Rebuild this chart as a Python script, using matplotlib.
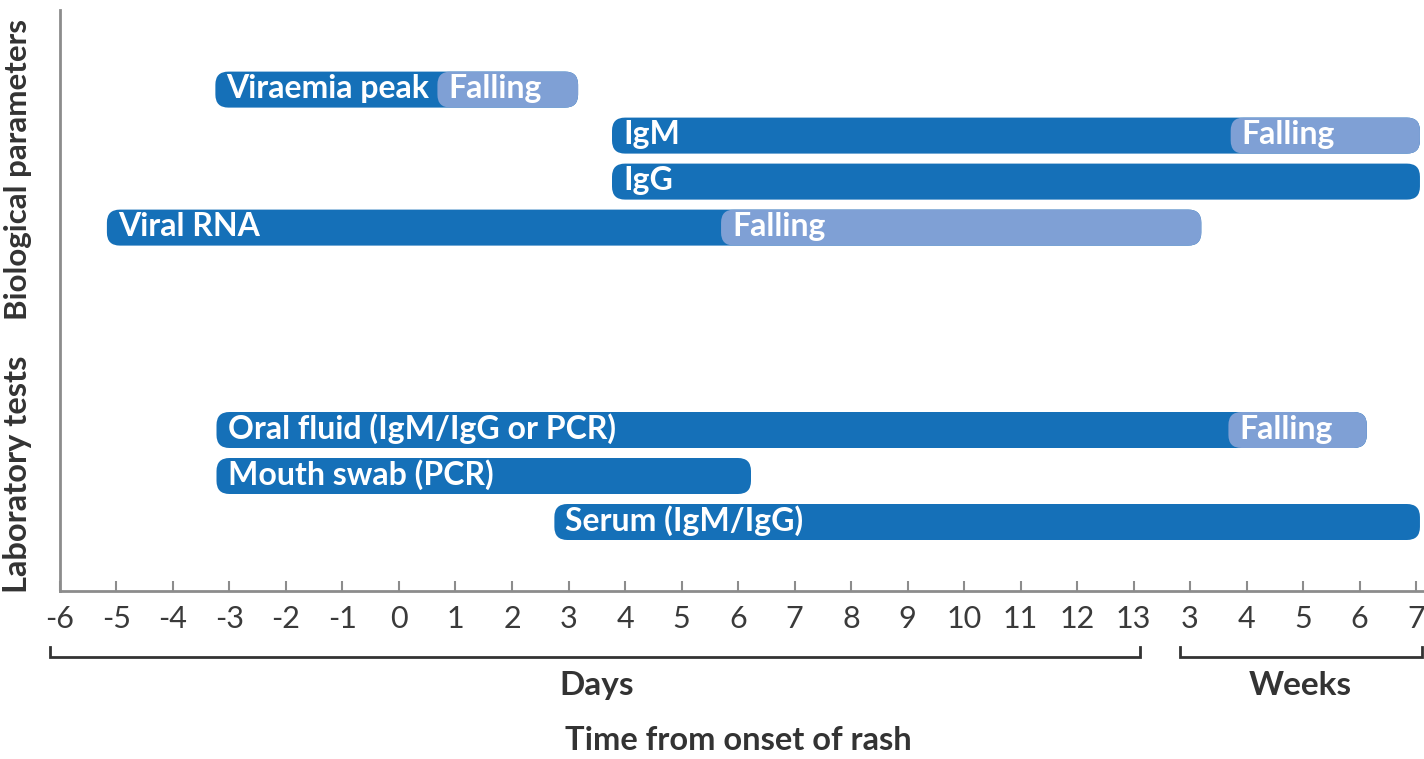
import matplotlib
matplotlib.use('Agg')
import matplotlib.pyplot as plt
from matplotlib.patches import FancyBboxPatch

# dados do grafico: linhas, inicio/fim em unidades do eixo
# (dias -6..13 nas posicoes -6..13, semanas 3..7 nas posicoes 14..18)
barLabels = ['Viraemia peak', 'IgM', 'IgG', 'Viral RNA',
             'Oral fluid (IgM/IgG or PCR)', 'Mouth swab (PCR)', 'Serum (IgM/IgG)']
barRows = [10.9, 9.9, 8.9, 7.9, 3.5, 2.5, 1.5]
barStart = [-3.25, 3.77, 3.77, -5.17, -3.23, -3.23, 2.75]
barEnd = [3.17, 18.07, 18.07, 14.2, 17.13, 6.23, 18.07]
fallStart = [0.68, 14.72, None, 5.7, 14.68, None, None]
fallLabel = 'Falling'

tickPos = list(range(-6, 19))
tickLabels = [str(d) for d in range(-6, 14)] + [str(w) for w in range(3, 8)]

DARK = '#1570b8'
LIGHT = '#7fa0d5'
TXT = '#333333'
GREY = '#8c8c8c'

W, H = 1424, 759
PX_X = 56.5   # pixels por unidade x
PX_Y = 46.0   # pixels por unidade y
XMIN, XMAX = -6, 18.12
YMAX = 581 / PX_Y
BAR_H = 36 / PX_Y
RAD = 13 / PX_X
PAD = 11 / PX_X

LABEL_FONT = ['Lato', 'DejaVu Sans']
TITLE_FONT = ['Lato', 'DejaVu Sans']


def barra(ax, x0, x1, y, cor):
    p = FancyBboxPatch((x0, y - BAR_H / 2), x1 - x0, BAR_H,
                       boxstyle='round,pad=0,rounding_size=%f' % RAD,
                       mutation_aspect=PX_X / PX_Y,
                       fc=cor, ec='none', lw=0)
    ax.add_patch(p)


def main():
    fig = plt.figure(figsize=(W / 100, H / 100), dpi=100)
    ax = fig.add_axes([60 / W, 168 / H, (XMAX - XMIN) * PX_X / W, 581 / H])
    ax.set_xlim(XMIN, XMAX)
    ax.set_ylim(0, YMAX)

    for i in range(len(barLabels)):
        y = barRows[i]
        barra(ax, barStart[i], barEnd[i], y, DARK)
        ax.text(barStart[i] + PAD, y + 0.02, barLabels[i], color='white', fontsize=23,
                fontweight='bold', family=LABEL_FONT, va='center', ha='left')
        if fallStart[i] is not None:
            barra(ax, fallStart[i], barEnd[i], y, LIGHT)
            ax.text(fallStart[i] + PAD, y + 0.02, fallLabel, color='white', fontsize=23,
                    fontweight='bold', family=LABEL_FONT, va='center', ha='left')

    # eixos
    for s in ['top', 'right']:
        ax.spines[s].set_visible(False)
    for s in ['left', 'bottom']:
        ax.spines[s].set_color(GREY)
        ax.spines[s].set_linewidth(2)
    ax.set_yticks([])
    ax.set_xticks(tickPos)
    ax.set_xticklabels(tickLabels, family=LABEL_FONT, fontweight='normal',
                       fontsize=22, color='#3a3a3a')
    ax.tick_params(axis='x', direction='in', length=7.5, width=1.5,
                   color=GREY, pad=10)

    # colchetes Days / Weeks
    tr = ax.get_xaxis_transform()
    yb, yt = -0.1136, -0.0964
    for x0, x1 in [(-6.18, 13.12), (13.82, 18.1)]:
        ax.plot([x0, x0, x1, x1], [yt, yb, yb, yt], color=TXT, lw=2,
                transform=tr, clip_on=False, solid_joinstyle='miter')
    ax.text(3.5, -0.1635, 'Days', transform=tr, ha='center', va='center',
            fontsize=24, fontweight='bold', color=TXT, family=TITLE_FONT)
    ax.text(15.95, -0.1635, 'Weeks', transform=tr, ha='center', va='center',
            fontsize=24, fontweight='bold', color=TXT, family=TITLE_FONT)
    ax.text(6.0, -0.258, 'Time from onset of rash', transform=tr, ha='center',
            va='center', fontsize=23.5, fontweight='bold', color=TXT,
            family=TITLE_FONT)

    # titulos das secoes
    fig.text(18 / W, 1 - 320 / H, 'Biological parameters', rotation=90,
             ha='center', va='bottom', fontsize=22.5, fontweight='bold',
             color=TXT, family=TITLE_FONT)
    fig.text(18 / W, 1 - 593 / H, 'Laboratory tests', rotation=90,
             ha='center', va='bottom', fontsize=23.5, fontweight='bold',
             color=TXT, family=TITLE_FONT)

    fig.savefig('out.png', dpi=100)


if __name__ == "__main__":
    main()
